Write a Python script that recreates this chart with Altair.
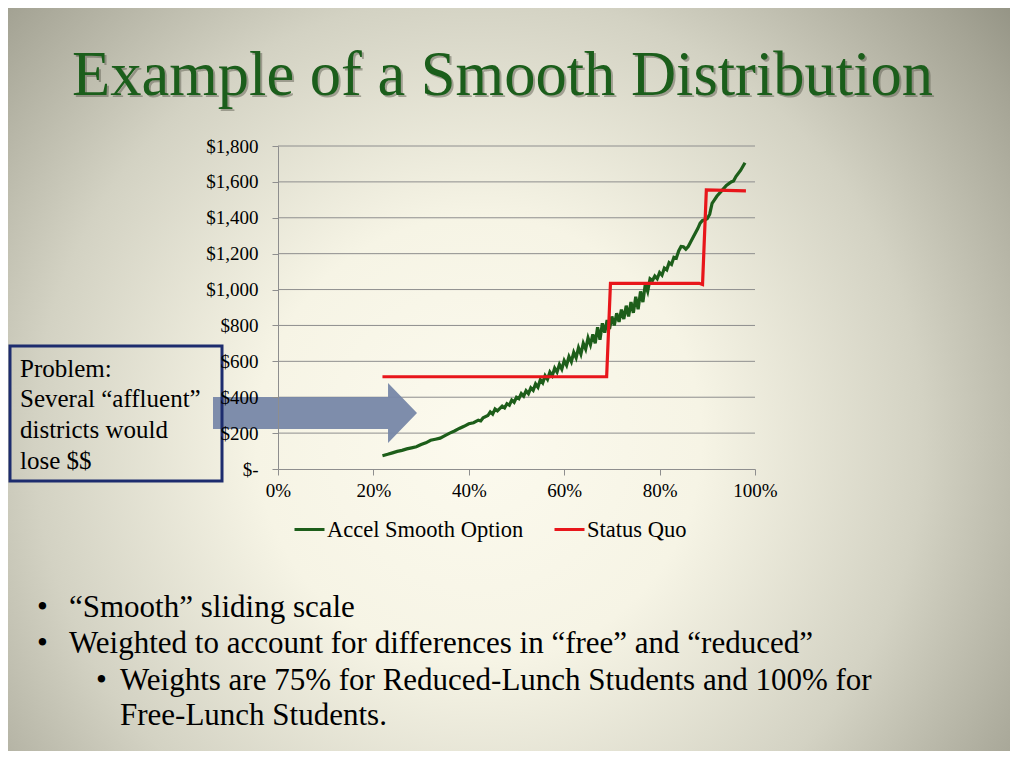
import altair as alt
import pandas as pd

SERIF = "Liberation Serif"

# ---- data ----
series_names = ["Accel Smooth Option", "Status Quo"]
series_colors = ["#1d5e1a", "#e8161b"]

green_pct = [21.9, 23, 24, 25, 26, 27, 28, 29, 30, 31, 32, 33, 34, 35, 36, 37, 38, 39, 40, 41,
             42, 42.5, 43, 44, 44.5, 45, 45.5, 46, 47, 47.5, 48, 48.5, 49, 49.5, 50, 50.5, 51, 51.5,
             52, 52.5, 53, 53.5, 54, 54.5, 55, 55.5, 56, 56.5, 57, 57.5, 58, 58.5, 59, 59.5,
             60, 60.5, 61, 61.5, 62, 62.5, 63, 63.5, 64, 64.5, 65, 65.5, 66, 66.5, 67, 67.5,
             68, 68.5, 69, 69.5, 70, 70.5, 71, 71.5, 72, 72.5, 73, 73.5, 74, 74.5, 75, 75.5,
             76, 76.5, 77, 77.5, 78, 78.5, 79, 79.5, 80, 80.5, 81, 81.5, 82, 82.5, 83, 83.5,
             84, 84.5, 85, 85.5, 86, 87, 88, 88.5, 89, 89.5, 90, 90.5, 91, 91.5, 92, 93, 94,
             95, 95.5, 96, 97, 97.9]
green_amt = [74, 82, 90, 98, 104, 112, 118, 124, 136, 146, 160, 166, 172, 186, 200, 212, 226, 238, 252, 258,
             272, 268, 286, 298, 318, 306, 334, 324, 350, 340, 364, 356, 384, 372, 400, 392, 420, 406,
             436, 420, 452, 438, 474, 456, 498, 480, 520, 500, 540, 520, 562, 540, 582, 556,
             604, 578, 626, 598, 650, 620, 676, 640, 700, 668, 730, 692, 750, 700, 790, 720,
             812, 760, 830, 780, 850, 800, 868, 820, 888, 836, 910, 850, 930, 870, 960, 890,
             990, 930, 1030, 990, 1060, 1050, 1075, 1060, 1095, 1080, 1120, 1110, 1150, 1140, 1180, 1175,
             1215, 1240, 1238, 1225, 1240, 1290, 1340, 1370, 1385, 1388, 1395, 1420, 1480, 1500, 1520, 1550, 1580,
             1600, 1605, 1630, 1665, 1707]

red_pct = [21.9, 68.9, 69.7, 88.3, 89.0, 89.8, 98.1]
red_amt = [514, 514, 1035, 1035, 1028, 1555, 1550]

x_ticks = [0, 20, 40, 60, 80, 100]
y_ticks = [0, 200, 400, 600, 800, 1000, 1200, 1400, 1600, 1800]
grid_vals = [200, 400, 600, 800, 1000, 1200, 1400, 1600, 1800]

title_text = "Example of a Smooth Distribution"
problem_lines = ["Problem:", "Several \u201caffluent\u201d", "districts would", "lose $$"]
bullet_lines = [
    "\u201cSmooth\u201d sliding scale",
    "Weighted to account for differences in \u201cfree\u201d and \u201creduced\u201d",
    "Weights are 75% for Reduced-Lunch Students and 100% for",
    "Free-Lunch Students.",
]

lines_df = pd.concat([
    pd.DataFrame({"pct": green_pct, "amt": green_amt, "series": series_names[0]}),
    pd.DataFrame({"pct": red_pct, "amt": red_amt, "series": series_names[1]}),
], ignore_index=True)
grid_df = pd.DataFrame({"amt": grid_vals})
one = pd.DataFrame({"k": [0]})

# ---- layout ----
W, H = 477, 323
PL, PT, PR, PB = 270, 138, 255, 282

gradient = {
    "gradient": "radial",
    "x1": 0.47, "y1": 0.56, "r1": 0,
    "x2": 0.47, "y2": 0.56, "r2": 0.74,
    "stops": [
        {"offset": 0.0, "color": "#fcfaee"},
        {"offset": 0.3, "color": "#f6f4e5"},
        {"offset": 0.6, "color": "#d3d2c3"},
        {"offset": 0.85, "color": "#a5a495"},
        {"offset": 1.0, "color": "#858576"},
    ],
}

yscale = alt.Scale(domain=[0, 1800])
yaxis = alt.Axis(values=y_ticks,
                 labelExpr="datum.value == 0 ? '$-\u00a0\u00a0' : '$' + format(datum.value, ',')",
                 title=None, grid=False, domainColor="#8e8e8e", tickColor="#8e8e8e",
                 tickSize=6, labelPadding=14, labelFont=SERIF, labelFontSize=19,
                 labelColor="black", labelFlush=False, zindex=1)

bg = alt.Chart(one).mark_rect(fill=gradient).encode(
    x=alt.value(-PL), x2=alt.value(W + PR), y=alt.value(-PT), y2=alt.value(H + PB)
)

grid = alt.Chart(grid_df).mark_rule(color="#8e8e8e", strokeWidth=1).encode(
    y=alt.Y("amt:Q", scale=yscale, axis=yaxis)
)

lines = alt.Chart(lines_df).mark_line(strokeWidth=3.2).encode(
    x=alt.X("pct:Q", scale=alt.Scale(domain=[0, 100]),
            axis=alt.Axis(values=x_ticks, labelExpr="datum.value + '%'", title=None, grid=False,
                          domainColor="#8e8e8e", tickColor="#8e8e8e", tickSize=6, labelPadding=6,
                          labelFont=SERIF, labelFontSize=19, labelColor="black",
                          labelFlush=False, zindex=1)),
    y=alt.Y("amt:Q", scale=yscale, axis=yaxis),
    color=alt.Color("series:N", scale=alt.Scale(domain=series_names, range=series_colors),
                    legend=alt.Legend(title=None, orient="none", legendX=15, legendY=367,
                                      direction="horizontal", symbolType="stroke", symbolSize=900,
                                      symbolStrokeWidth=3, labelFont=SERIF, labelFontSize=22.5,
                                      labelColor="black", labelOffset=1, columnPadding=24,
                                      labelLimit=400, padding=0)),
    order=alt.Order("pct:Q"),
)

ARROW = "M -1 -0.157 L 0.716 -0.157 L 0.716 -0.294 L 1 0 L 0.716 0.294 L 0.716 0.157 L -1 0.157 Z"
arrow = alt.Chart(one).mark_point(shape=ARROW, size=204 * 204, filled=True, color="#7787a8",
                                  opacity=0.95, strokeWidth=0).encode(
    x=alt.value(315 - 278), y=alt.value(413 - 146)
)

box = alt.Chart(one).mark_rect(fillOpacity=0, stroke="#1d2c6e", strokeWidth=3).encode(
    x=alt.value(10 - 278), x2=alt.value(222 - 278), y=alt.value(346 - 146), y2=alt.value(481 - 146)
)


def txt(s, px, py, size, color="black", opacity=1.0):
    return alt.Chart(one).mark_text(font=SERIF, fontSize=size, color=color, align="left",
                                    baseline="alphabetic", opacity=opacity).encode(
        text=alt.value(s), x=alt.value(px - 278), y=alt.value(py - 146)
    )


texts = [
    txt(title_text, 74, 97, 62.5, color="#555548", opacity=0.45),
    txt(title_text, 72, 95, 62.5, color="#1b5e1b"),
]
for i, s in enumerate(problem_lines):
    texts.append(txt(s, 20, [377, 407, 438, 469][i], 25))

bullet_pos = [(37, 69, 617), (37, 69, 653), (96, 120, 690), (None, 120, 725)]
for (bx, tx, by), s in zip(bullet_pos, bullet_lines):
    if bx is not None:
        texts.append(txt("\u2022", bx, by, 31))
    texts.append(txt(s, tx, by, 31))

chart = alt.layer(bg, grid, lines, arrow, box, *texts).properties(
    width=W, height=H,
    padding={"left": PL, "top": PT, "right": PR, "bottom": PB},
    autosize=alt.AutoSizeParams(type="none"),
).configure_view(strokeWidth=0).configure(background="#8a8a7b")

chart.save("out.html", embed_options={"renderer": "svg", "actions": False})
